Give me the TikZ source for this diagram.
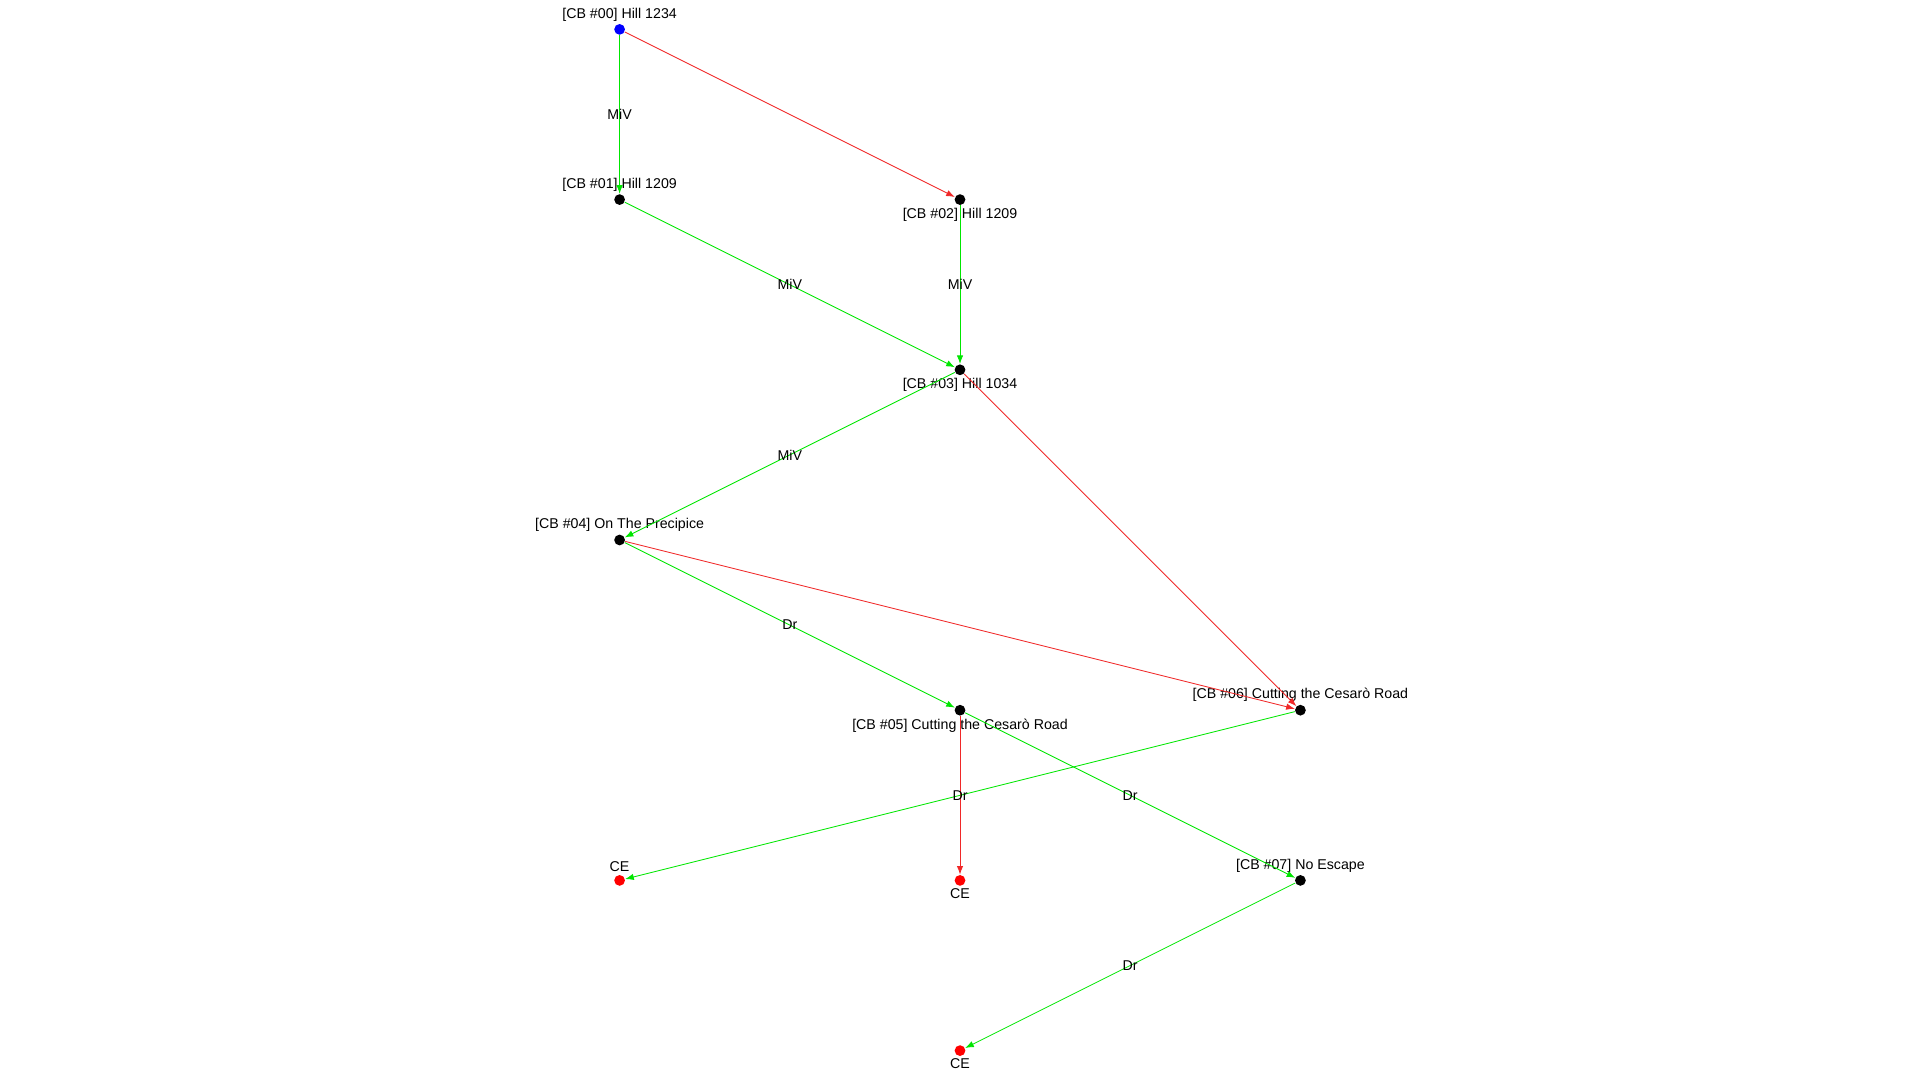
\documentclass[tikz,border=0pt]{standalone}
\usepackage{fontspec}
\setmainfont{Liberation Sans}
\usetikzlibrary{arrows.meta}
\definecolor{okgreen}{RGB}{0,230,0}
\definecolor{badred}{RGB}{240,40,40}
\tikzset{
  pt/.style={circle, fill=black, inner sep=0pt, minimum size=5pt},
  win/.style={draw=okgreen, -{Latex[length=4pt,width=3pt]}},
  lose/.style={draw=badred, -{Latex[length=4pt,width=3pt]}},
  tag/.style={font=\fontsize{6.6}{8}\selectfont, inner sep=1pt}
}
\begin{document}
\begin{tikzpicture}[x=0.02cm, y=-0.02cm]
  \useasboundingbox (0,0) rectangle (1568,882);
  \node[pt, fill=blue] (c00) at (506,24) {};
  \node[pt] (c01) at (506,163) {};
  \node[pt] (c02) at (784,163) {};
  \node[pt] (c03) at (784,302) {};
  \node[pt] (c04) at (506,441) {};
  \node[pt] (c05) at (784,580) {};
  \node[pt] (c06) at (1062,580) {};
  \node[pt] (c07) at (1062,719) {};
  \node[pt, fill=red] (ce1) at (506,719) {};
  \node[pt, fill=red] (ce2) at (784,719) {};
  \node[pt, fill=red] (ce3) at (784,858) {};
  % labels
  \node[tag, above] at (c00.north) {[CB \#00] Hill 1234};
  \node[tag, above] at (c01.north) {[CB \#01] Hill 1209};
  \node[tag, below] at (c02.south) {[CB \#02] Hill 1209};
  \node[tag, below] at (c03.south) {[CB \#03] Hill 1034};
  \node[tag, above] at (c04.north) {[CB \#04] On The Precipice};
  \node[tag, below] at (c05.south) {[CB \#05] Cutting the Cesarò Road};
  \node[tag, above] at (c06.north) {[CB \#06] Cutting the Cesarò Road};
  \node[tag, above] at (c07.north) {[CB \#07] No Escape};
  \node[tag, above] at (ce1.north) {CE};
  \node[tag, below] at (ce2.south) {CE};
  \node[tag, below] at (ce3.south) {CE};
  % edges
  \draw[win] (c00) -- node[tag] {MiV} (c01);
  \draw[lose] (c00) -- (c02);
  \draw[win] (c01) -- node[tag] {MiV} (c03);
  \draw[win] (c02) -- node[tag] {MiV} (c03);
  \draw[win] (c03) -- node[tag] {MiV} (c04);
  \draw[lose] (c03) -- (c06);
  \draw[win] (c04) -- node[tag] {Dr} (c05);
  \draw[lose] (c04) -- (c06);
  \draw[lose] (c05) -- (ce2);
  \draw[win] (c05) -- node[tag] {Dr} (c07);
  \draw[win] (c06) -- node[tag] {Dr} (ce1);
  \draw[win] (c07) -- node[tag] {Dr} (ce3);
\end{tikzpicture}
\end{document}
